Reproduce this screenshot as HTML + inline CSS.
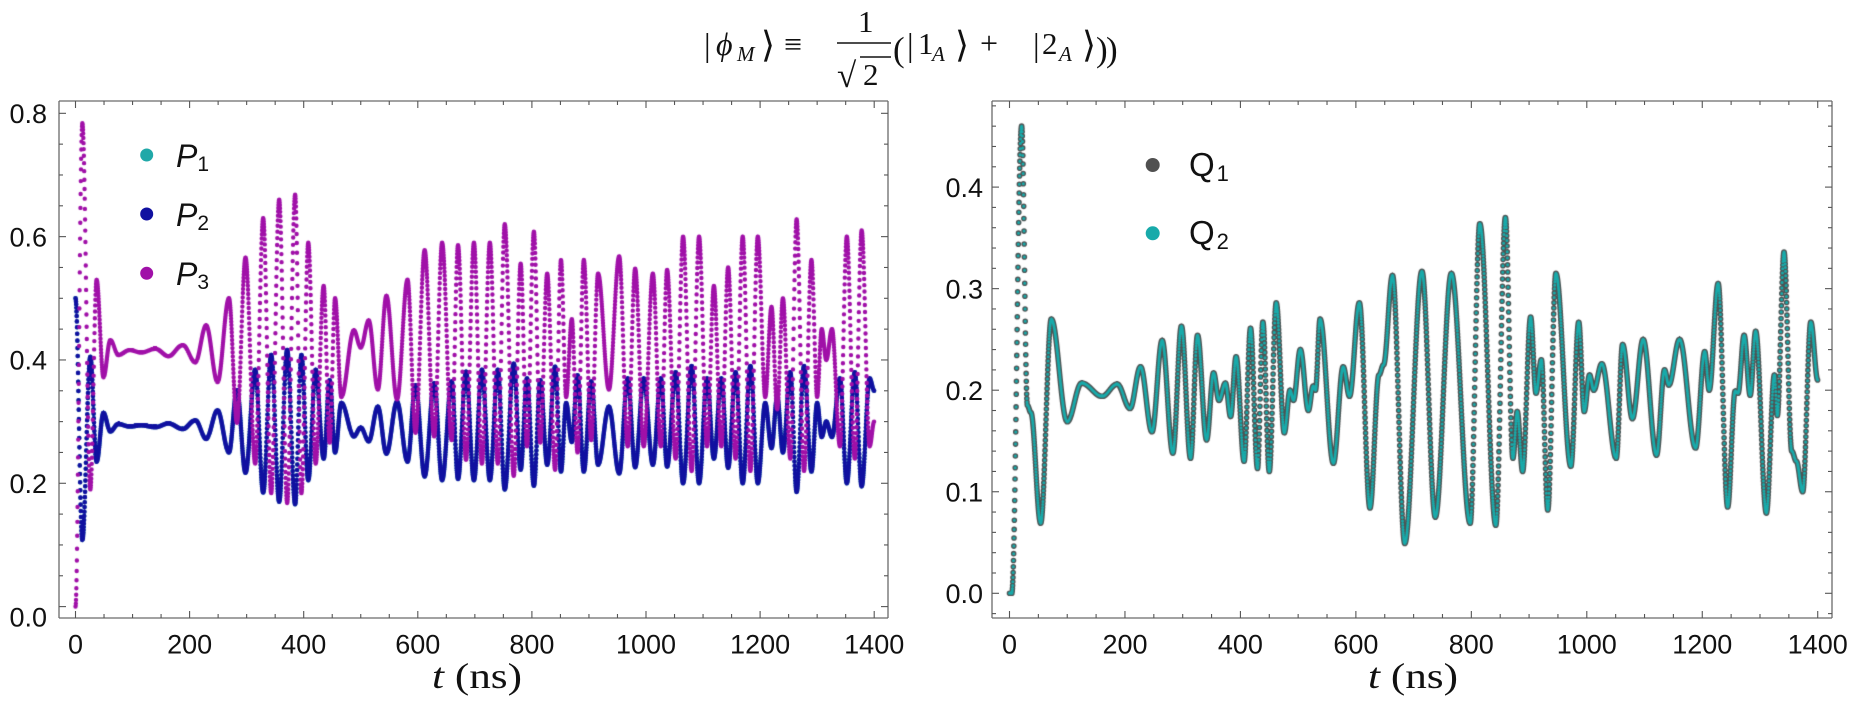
<!DOCTYPE html>
<html><head><meta charset="utf-8">
<style>
html,body{margin:0;padding:0;background:#fff;width:1849px;height:712px;overflow:hidden}
canvas,svg{position:absolute;left:0;top:0}
.tl{font-family:"Liberation Sans",Arial,sans-serif;font-size:27px;fill:#111}
.m{font-family:"Liberation Serif","DejaVu Serif",serif;fill:#111}
.lg{font-family:"Liberation Sans",Arial,sans-serif;fill:#111}
</style></head>
<body>
<canvas id="c" width="1849" height="712"></canvas>
<svg id="s" width="1849" height="712" xmlns="http://www.w3.org/2000/svg">
<g id="ticks"></g>
<!-- title -->
<g class="m">
<text x="704" y="56" font-size="33">|</text>
<text x="716" y="55" font-size="32" font-style="italic">ϕ</text>
<text x="737" y="61" font-size="21" font-style="italic">M</text>
<text x="761" y="57" font-size="36">⟩</text>
<text x="784" y="55" font-size="32">≡</text>
<text x="858" y="32" font-size="31">1</text>
<line x1="837" y1="43" x2="891" y2="43" stroke="#111" stroke-width="1.5"/>
<text x="837" y="87" font-size="35">√</text>
<line x1="860" y1="57" x2="891" y2="57" stroke="#111" stroke-width="1.4"/>
<text x="863" y="85" font-size="31">2</text>
<text x="893" y="61" font-size="35">(</text>
<text x="907" y="56" font-size="33">|</text>
<text x="918" y="54" font-size="31">1</text>
<text x="932" y="61" font-size="21" font-style="italic">A</text>
<text x="955" y="57" font-size="36">⟩</text>
<text x="980" y="54" font-size="32">+</text>
<text x="1033" y="56" font-size="33">|</text>
<text x="1042" y="54" font-size="31">2</text>
<text x="1059" y="61" font-size="21" font-style="italic">A</text>
<text x="1082" y="57" font-size="36">⟩</text>
<text x="1096" y="61" font-size="35">)</text>
<text x="1106" y="61" font-size="35">)</text>
</g>
<!-- left tick labels -->
<g class="tl" text-anchor="end">
<text x="47" y="626.7">0.0</text>
<text x="47" y="493">0.2</text>
<text x="47" y="369.7">0.4</text>
<text x="47" y="246.3">0.6</text>
<text x="47" y="123">0.8</text>
</g>
<g class="tl" text-anchor="middle">
<text x="75.5" y="653.7">0</text>
<text x="189.6" y="653.7">200</text>
<text x="303.7" y="653.7">400</text>
<text x="417.8" y="653.7">600</text>
<text x="531.9" y="653.7">800</text>
<text x="646" y="653.7">1000</text>
<text x="760.1" y="653.7">1200</text>
<text x="874.2" y="653.7">1400</text>
</g>
<!-- right tick labels -->
<g class="tl" text-anchor="end">
<text x="983" y="603">0.0</text>
<text x="983" y="501.5">0.1</text>
<text x="983" y="399.9">0.2</text>
<text x="983" y="298.4">0.3</text>
<text x="983" y="196.8">0.4</text>
</g>
<g class="tl" text-anchor="middle">
<text x="1009.5" y="653.7">0</text>
<text x="1125" y="653.7">200</text>
<text x="1240.4" y="653.7">400</text>
<text x="1355.9" y="653.7">600</text>
<text x="1471.3" y="653.7">800</text>
<text x="1586.8" y="653.7">1000</text>
<text x="1702.3" y="653.7">1200</text>
<text x="1817.7" y="653.7">1400</text>
</g>
<!-- axis titles -->
<text class="m" x="477" y="688" font-size="36" text-anchor="middle" textLength="90" lengthAdjust="spacingAndGlyphs"><tspan font-style="italic">t</tspan> (ns)</text>
<text class="m" x="1413" y="688" font-size="36" text-anchor="middle" textLength="90" lengthAdjust="spacingAndGlyphs"><tspan font-style="italic">t</tspan> (ns)</text>
<!-- left legend -->
<circle cx="146.7" cy="155" r="6.5" fill="#20a8a8"/>
<circle cx="146.7" cy="214" r="6.5" fill="#1010a0"/>
<circle cx="146.7" cy="273.3" r="6.5" fill="#a010a8"/>
<g class="lg">
<text x="176" y="167" font-size="32" font-style="italic">P<tspan font-size="21" dy="4" font-style="normal">1</tspan></text>
<text x="176" y="226" font-size="32" font-style="italic">P<tspan font-size="21" dy="4" font-style="normal">2</tspan></text>
<text x="176" y="285" font-size="32" font-style="italic">P<tspan font-size="21" dy="4" font-style="normal">3</tspan></text>
</g>
<!-- right legend -->
<circle cx="1152.7" cy="165" r="7" fill="#505050"/>
<circle cx="1152.7" cy="233.3" r="7" fill="#18aaaa"/>
<g class="lg">
<text x="1189" y="176" font-size="33">Q<tspan font-size="22" dy="5" dx="2">1</tspan></text>
<text x="1189" y="244" font-size="33">Q<tspan font-size="22" dy="5" dx="2">2</tspan></text>
</g>
</svg>
<script>
(function(){
var NS="http://www.w3.org/2000/svg";
var tg=document.getElementById("ticks");
function ln(x1,y1,x2,y2,c,w){var l=document.createElementNS(NS,"line");l.setAttribute("x1",x1);l.setAttribute("y1",y1);l.setAttribute("x2",x2);l.setAttribute("y2",y2);l.setAttribute("stroke",c);l.setAttribute("stroke-width",w);tg.appendChild(l);}
function frame(L,T,R,B,X,Y,xt,ymin,ymax,ystep,ymaj){
  ln(L,T,R,T,"#6a6a6a",1.3);ln(L,B,R,B,"#6a6a6a",1.3);ln(L,T,L,B,"#6a6a6a",1.3);ln(R,T,R,B,"#6a6a6a",1.3);
  for(var t=0;t<=1400.01;t+=50){var x=X(t);var mj=(Math.round(t)%200===0);var len=mj?7:4;
    ln(x,B,x,B-len,"#555",1.1);ln(x,T,x,T+len,"#555",1.1);}
  var n=Math.round((ymax-ymin)/ystep);
  for(var i=0;i<=n;i++){var v=ymin+i*ystep;var y=Y(v);var k=Math.round(v/ystep);var mj=(k%ymaj===0);var len=mj?7:4;
    ln(L,y,L+len,y,"#555",1.1);ln(R,y,R-len,y,"#555",1.1);}
}
var XL=function(t){return 75.5+0.5705*t;}, YL=function(v){return 606.6-616.6*v;};
var XR=function(t){return 1009.5+0.5773*t;}, YR=function(v){return 593.3-1015.5*v;};
frame(59,101,888,618,XL,YL,50,0,0.8,0.05,4);
frame(992,101,1832,618,XR,YR,50,-0.02,0.48,0.02,5);

var P2=[[0,0.5],[12,0.108],[26,0.405],[37,0.235],[49,0.314],[61,0.284],[75,0.296],[95,0.292],[115,0.294],[140,0.291],[163,0.297],[188,0.288],[210,0.302],[229,0.272],[249,0.318],[269,0.25],
[283,0.351],[298,0.217],[315,0.384],[329,0.185],[343,0.408],[357,0.17],[371,0.416],[385,0.166],[396,0.408],[408,0.205],[421,0.384],[435,0.24],[445.5,0.367],[455,0.25],[466,0.33],[488,0.276],[500,0.29],[514,0.268],[530,0.324],[545,0.248],[563.6,0.332],[582,0.235],[596,0.359],[612,0.211],[628.7,0.362],[642.6,0.205],[659.4,0.365],[670.5,0.207],[684.5,0.381],[698.4,0.205],[712.4,0.384],[726.3,0.205],[740.3,0.384],[752.4,0.19],[768.2,0.394],[780.3,0.222],[791.4,0.37],[803.5,0.196],[814.7,0.367],[826.8,0.23],[840.7,0.389],[851,0.219],[860,0.33],[870,0.267],[880,0.375],[891,0.219],[904,0.365],[916,0.23],[935,0.324],[953,0.216],[968,0.37],[981,0.226],[996,0.37],[1012,0.23],[1026,0.37],[1037,0.227],[1052,0.38],[1065,0.2],[1080,0.39],[1093,0.2],[1107,0.37],[1119,0.24],[1132,0.37],[1144,0.225],[1157,0.38],[1169.5,0.2],[1183,0.39],[1196,0.2],[1209,0.33],[1220,0.257],[1230,0.34],[1240,0.25],[1253,0.38],[1264,0.186],[1277,0.39],[1290,0.219],[1300,0.33],[1308,0.275],[1316,0.30],[1326,0.275],[1340,0.37],[1352,0.2],[1366,0.38],[1378,0.195],[1392,0.37],[1400,0.35]];

var Q=[[0,0],[4,0.0],[21,0.46],[31,0.185],[37,0.178],[54,0.069],[72.4,0.27],[100,0.169],[125,0.207],[160.5,0.194],[186.5,0.206],[208.8,0.182],[227,0.223],[246.8,0.159],[264.4,0.249],[283,0.138],[297.8,0.263],[313.6,0.133],[325.7,0.254],[341.4,0.151],[353.5,0.217],[362.8,0.19],[374,0.207],[383,0.174],[392.5,0.233],[406.4,0.13],[417.5,0.261],[429.6,0.123],[438.9,0.267],[450,0.12],[462,0.286],[476,0.158],[486,0.2],[492,0.19],[503.8,0.24],[517.7,0.18],[526,0.204],[530,0.2],[538,0.27],[561,0.128],[578,0.223],[589,0.194],[606,0.286],[624.4,0.084],[640,0.215],[648,0.225],[663.4,0.313],[684.7,0.049],[714.4,0.317],[737.6,0.075],[765.4,0.315],[798,0.069],[814.6,0.364],[842.4,0.067],[859,0.37],[872,0.133],[879.5,0.179],[888.8,0.12],[902.7,0.272],[912,0.197],[921.3,0.23],[932.4,0.082],[946.4,0.315],[972.4,0.125],[986,0.267],[995.5,0.179],[1004.8,0.215],[1012,0.2],[1026,0.226],[1051,0.133],[1062,0.245],[1079,0.172],[1097.6,0.25],[1120.8,0.136],[1134.7,0.22],[1142,0.205],[1160.7,0.25],[1188.5,0.143],[1204.3,0.238],[1212,0.2],[1227.5,0.305],[1244,0.085],[1257,0.199],[1262,0.197],[1272.5,0.254],[1283,0.195],[1292.5,0.258],[1311,0.079],[1325,0.215],[1330,0.175],[1341.6,0.336],[1355,0.14],[1363,0.13],[1374,0.10],[1388,0.267],[1400,0.21]];

function build(ext,dt){var pts=[],i=0;
  for(var t=0;t<=1400.0001;t+=dt){
    while(i<ext.length-2&&t>ext[i+1][0])i++;
    var t0=ext[i][0],v0=ext[i][1],t1=ext[i+1][0],v1=ext[i+1][1];
    var u=(t-t0)/(t1-t0);if(u<0)u=0;if(u>1)u=1;
    pts.push([t,v0+(v1-v0)*(1-Math.cos(Math.PI*u))/2]);}
  return pts;}
var cv=document.getElementById("c"),ctx=cv.getContext("2d");
function dots(pts,X,Y,r,col,f){ctx.fillStyle=col;ctx.beginPath();
  for(var k=0;k<pts.length;k++){var v=f?f(pts[k][1]):pts[k][1];var x=X(pts[k][0]),y=Y(v);ctx.moveTo(x+r,y);ctx.arc(x,y,r,0,2*Math.PI);}
  ctx.fill();}
var dt=0.3;
var p=build(P2,dt);
ctx.save();ctx.beginPath();ctx.rect(59,101,829,517);ctx.clip();
dots(p,XL,YL,2.2,"#20a8a8");
dots(p,XL,YL,2.3,"#1010a0");
dots(p,XL,YL,2.2,"#a010a8",function(v){return 1-2*v;});
ctx.restore();
var q=build(Q,dt);
ctx.save();ctx.beginPath();ctx.rect(992,101,840,517);ctx.clip();
dots(q,XR,YR,2.8,"#4d5454");
dots(q,XR,YR,1.5,"#18aaaa");
ctx.restore();
})();
</script>
</body></html>
